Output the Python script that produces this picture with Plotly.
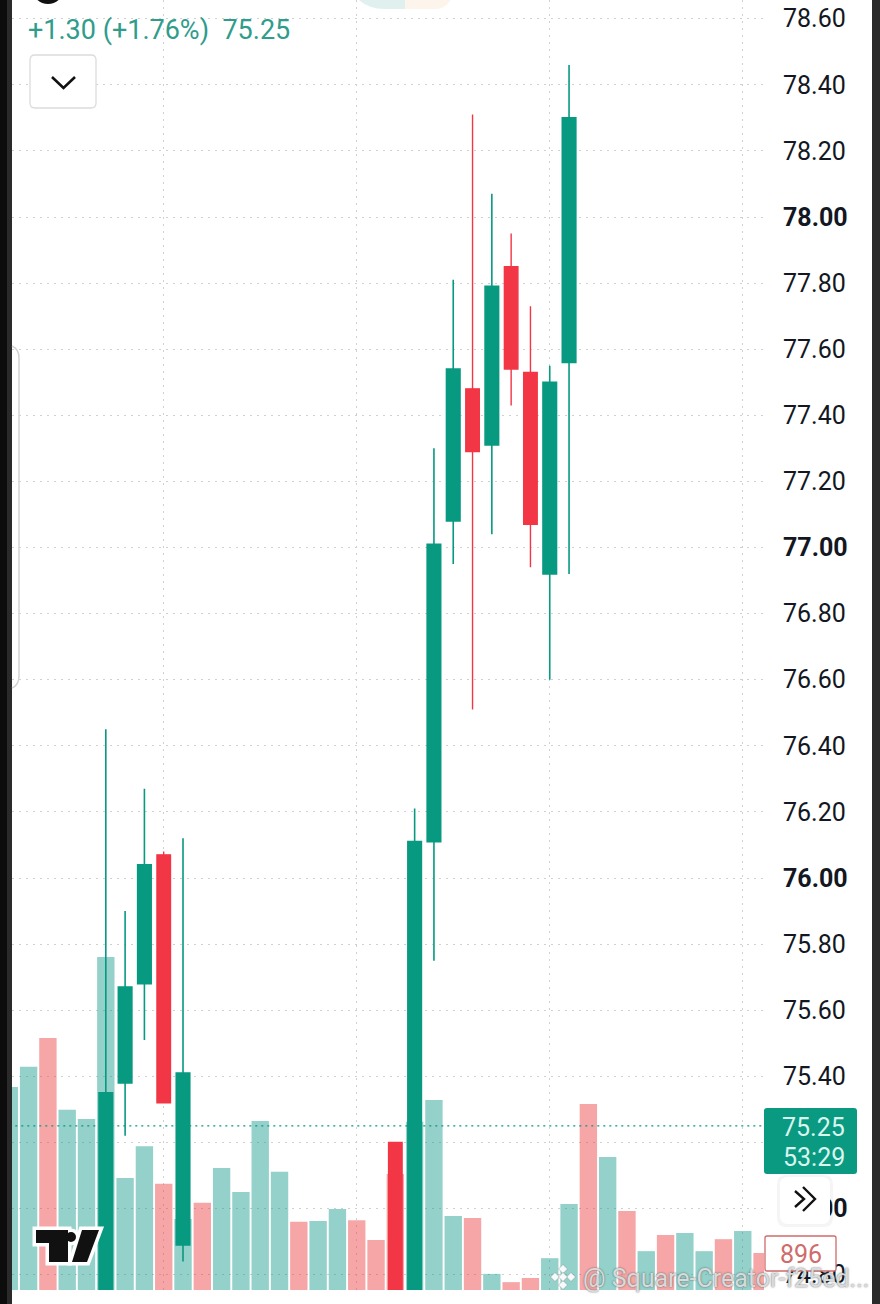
import plotly.graph_objects as go

# slot numbers along the time axis, the candles only fill some of them
candle_slots = [5, 6, 7, 8, 9, 20, 21, 22, 23, 24, 25, 26, 27, 28, 29]
opens = [74.70, 75.38, 75.68, 76.07, 74.89, 75.20, 74.70, 76.11, 77.08, 77.48, 77.31, 77.85, 77.53, 76.92, 77.56]
highs = [76.45, 75.90, 76.27, 76.08, 76.12, 75.20, 76.21, 77.30, 77.81, 78.31, 78.07, 77.95, 77.73, 77.55, 78.46]
lows = [74.60, 75.22, 75.51, 75.32, 74.84, 74.60, 74.60, 75.75, 76.95, 76.51, 77.04, 77.43, 76.94, 76.60, 76.92]
closes = [75.35, 75.67, 76.04, 75.32, 75.41, 74.70, 76.11, 77.01, 77.54, 77.29, 77.79, 77.54, 77.07, 77.50, 78.30]

volume_slots = list(range(40))
volumes = [4910, 5400, 6100, 4360, 4140, 8060, 2710, 3480, 2570, 1720,
           2110, 2950, 2370, 4090, 2860, 1650, 1670, 1960, 1690, 1210,
           2810, 4070, 4600, 1790, 1740, 390, 190, 290, 770, 2080,
           4500, 3220, 1910, 940, 1330, 1380, 940, 1230, 1430, 896]
volume_up = [1, 1, 0, 1, 1, 1, 1, 1, 0, 1,
             0, 1, 1, 1, 1, 0, 1, 1, 0, 0,
             0, 1, 1, 1, 0, 1, 0, 0, 1, 1,
             0, 1, 0, 1, 0, 1, 1, 0, 1, 0]

price_ticks = [74.8, 75.0, 75.2, 75.4, 75.6, 75.8, 76.0, 76.2, 76.4, 76.6, 76.8, 77.0,
               77.2, 77.4, 77.6, 77.8, 78.0, 78.2, 78.4, 78.6]
price_labels = ["74.80", "<b>75.00</b>", "75.20", "75.40", "75.60", "75.80", "<b>76.00</b>", "76.20",
                "76.40", "76.60", "76.80", "<b>77.00</b>", "77.20", "77.40", "77.60", "77.80",
                "<b>78.00</b>", "78.20", "78.40", "78.60"]
time_ticks = [8, 18, 28, 38]
last_price = 75.25

GREEN = "#089981"
RED = "#F23645"
GRID = "#d0d0d0"
PRICE_RANGE = [74.7534, 78.6566]
VOLUME_RANGE = [0, 31218]
FONT = "Roboto"

# plot box in window pixels
L, R, T, B = 12, 764, 0, 1290


def px(x):
    return (x - L) / (R - L)


def py(y):
    return 1 - (y - T) / (B - T)


def pt(x, y):
    return f"{px(x):.5f},{py(y):.5f}"


def poly(points, close=True):
    d = "M" + " L".join(pt(x, y) for x, y in points)
    return d + (" Z" if close else "")


def round_rect(x0, y0, x1, y1, r):
    return (f"M{pt(x0 + r, y0)} L{pt(x1 - r, y0)} Q{pt(x1, y0)} {pt(x1, y0 + r)} "
            f"L{pt(x1, y1 - r)} Q{pt(x1, y1)} {pt(x1 - r, y1)} "
            f"L{pt(x0 + r, y1)} Q{pt(x0, y1)} {pt(x0, y1 - r)} "
            f"L{pt(x0, y0 + r)} Q{pt(x0, y0)} {pt(x0 + r, y0)} Z")


def path_shape(path, fill="rgba(0,0,0,0)", line="rgba(0,0,0,0)", width=0):
    return dict(type="path", xref="paper", yref="paper", path=path, fillcolor=fill,
                line=dict(color=line, width=width), layer="above")


def rect_shape(x0, y0, x1, y1, fill):
    return dict(type="rect", xref="paper", yref="paper", x0=px(x0), x1=px(x1), y0=py(y1), y1=py(y0),
                fillcolor=fill, line=dict(width=0), layer="above")


def circle_shape(cx, cy, r, fill, line="rgba(0,0,0,0)", width=0):
    return dict(type="circle", xref="paper", yref="paper", x0=px(cx - r), x1=px(cx + r),
                y0=py(cy + r), y1=py(cy - r), fillcolor=fill, line=dict(color=line, width=width), layer="above")


def text_note(x, y, text, size, color, anchor="left", shadow=None):
    font = dict(family=FONT, size=size, color=color)
    if shadow:
        font["shadow"] = shadow
    return dict(xref="paper", yref="paper", x=px(x), y=py(y), text=text, showarrow=False,
                xanchor=anchor, yanchor="middle", font=font, borderpad=0)


fig = go.Figure()

fig.add_trace(go.Bar(
    x=volume_slots, y=volumes, yaxis="y",
    marker=dict(color=["rgba(8,150,135,0.44)" if u else "rgba(236,60,60,0.46)" for u in volume_up], line=dict(width=0)),
    hoverinfo="skip", showlegend=False,
))

# last price line, sits under the candles
fig.add_trace(go.Scatter(
    x=[volume_slots[0], volume_slots[-1] + 1], y=[last_price, last_price], yaxis="y2", mode="lines",
    line=dict(color=GREEN, width=1.3, dash="2px,4px"), hoverinfo="skip", showlegend=False,
))

fig.add_trace(go.Candlestick(
    x=candle_slots, open=opens, high=highs, low=lows, close=closes, yaxis="y3",
    increasing=dict(fillcolor=GREEN, line=dict(color=GREEN, width=1.6)),
    decreasing=dict(fillcolor=RED, line=dict(color=RED, width=1.4)),
    whiskerwidth=0, hoverinfo="skip", showlegend=False,
))

shapes = []

# phone screen edges
shapes.append(rect_shape(0, -2, 7, 1306, "#0c0c0c"))
shapes.append(rect_shape(7, -2, 12, 1306, "#2a2a2a"))
shapes.append(rect_shape(872, -2, 882, 1306, "#2a2a2a"))

# drawer handle on the left
shapes.append(path_shape(
    f"M{pt(12, 346)} Q{pt(19, 349)} {pt(19, 358)} L{pt(19, 676)} Q{pt(19, 685)} {pt(12, 688)}",
    line="#d2d2d2", width=1.5))

# bits of the header that are cut off
shapes.append(circle_shape(48, -12, 16, "#111111"))
shapes.append(path_shape(f"M{pt(358, -1)} Q{pt(368, 9)} {pt(385, 9)} L{pt(405, 9)} L{pt(405, -1)} Z", fill="#dff0ee"))
shapes.append(path_shape(f"M{pt(405, -1)} L{pt(405, 9)} L{pt(435, 9)} Q{pt(446, 9)} {pt(451, -1)} Z", fill="#fdf4ec"))

# collapse button
shapes.append(path_shape(round_rect(30, 55, 96, 108, 5), fill="#ffffff", line="#dcdcdc", width=1.3))
shapes.append(path_shape(poly([(52, 77), (63.5, 88), (75, 77)], close=False), line="#111111", width=2.6))

# price badge
shapes.append(path_shape(round_rect(764, 1108, 857, 1174, 3), fill="#0a9981"))

# scroll button with a soft edge
shapes.append(path_shape(round_rect(777, 1175, 833, 1227, 9), fill="rgba(0,0,0,0.04)"))
shapes.append(path_shape(round_rect(780, 1177, 830, 1224, 8), fill="#ffffff"))
shapes.append(path_shape(poly([(795, 1191), (804, 1199), (795, 1207)], close=False), line="#111111", width=2.4))
shapes.append(path_shape(poly([(803, 1187), (815, 1199), (803, 1211)], close=False), line="#111111", width=2.4))

# volume box
shapes.append(path_shape(round_rect(765, 1236, 836, 1271, 2), fill="#ffffff", line="#cf6b6b", width=1.3))

# TradingView mark, white halo first
logo_t = [(36, 1230), (68, 1230), (68, 1262), (49, 1262), (49, 1243), (36, 1243)]
logo_slash = [(82, 1230), (99, 1230), (87, 1262), (72, 1262)]
for fill, w in [("#ffffff", 7), ("#111111", 0)]:
    line = "#ffffff" if w else "rgba(0,0,0,0)"
    shapes.append(path_shape(poly(logo_t), fill=fill, line=line, width=w))
    shapes.append(path_shape(poly(logo_slash), fill=fill, line=line, width=w))
    shapes.append(circle_shape(71, 1237, 5, fill, line, w))

# watermark logo
for dx, dy in [(-8, 0), (8, 0), (0, -8), (0, 8), (0, 0)]:
    cx, cy = 563 + dx, 1277 + dy
    shapes.append(path_shape(poly([(cx - 4.5, cy), (cx, cy - 4.5), (cx + 4.5, cy), (cx, cy + 4.5)]),
                             fill="rgba(255,255,255,0.9)", line="rgba(130,130,130,0.55)", width=0.8))

annotations = [
    text_note(27, 30, "+1.30 (+1.76%)  75.25", 27, "#2f9c8c"),
    text_note(846, 1127, "75.25", 25, "#d9f5ee", anchor="right"),
    text_note(846, 1157, "53:29", 25, "#d9f5ee", anchor="right"),
    text_note(800.5, 1254, "896", 25, "#cf6b6b", anchor="center"),
    text_note(582, 1278, "@ Square-Creator-f25ed...", 25, "rgba(222,226,226,0.95)", shadow="0 0 2px #555555"),
]

fig.update_layout(
    width=880, height=1304, autosize=False,
    margin=dict(l=L, r=880 - R, t=T, b=1304 - B, pad=0),
    paper_bgcolor="white", plot_bgcolor="white",
    font=dict(family=FONT, color="#131722"),
    bargap=0.1, boxgap=0.3, boxgroupgap=0,
    showlegend=False, shapes=shapes, annotations=annotations,
    xaxis=dict(range=[0.14, 39.10], tickvals=time_ticks, showticklabels=False, ticks="",
               showgrid=True, gridcolor=GRID, griddash="2px,5px", gridwidth=1,
               zeroline=False, showline=False, rangeslider=dict(visible=False), fixedrange=True),
    yaxis=dict(range=VOLUME_RANGE, visible=False, fixedrange=True),
    yaxis2=dict(range=PRICE_RANGE, overlaying="y", side="right", tickvals=price_ticks, ticktext=price_labels,
                tickfont=dict(family=FONT, size=25, color="#131722"), ticks="", ticklabelstandoff=18,
                showgrid=True, gridcolor=GRID, griddash="2px,5px", gridwidth=1,
                zeroline=False, showline=False, fixedrange=True),
    yaxis3=dict(range=PRICE_RANGE, overlaying="y", visible=False, fixedrange=True),
)

fig.write_html("out.html", config=dict(displayModeBar=False),
               post_script="document.body.style.margin='0';document.body.style.overflow='hidden';")
